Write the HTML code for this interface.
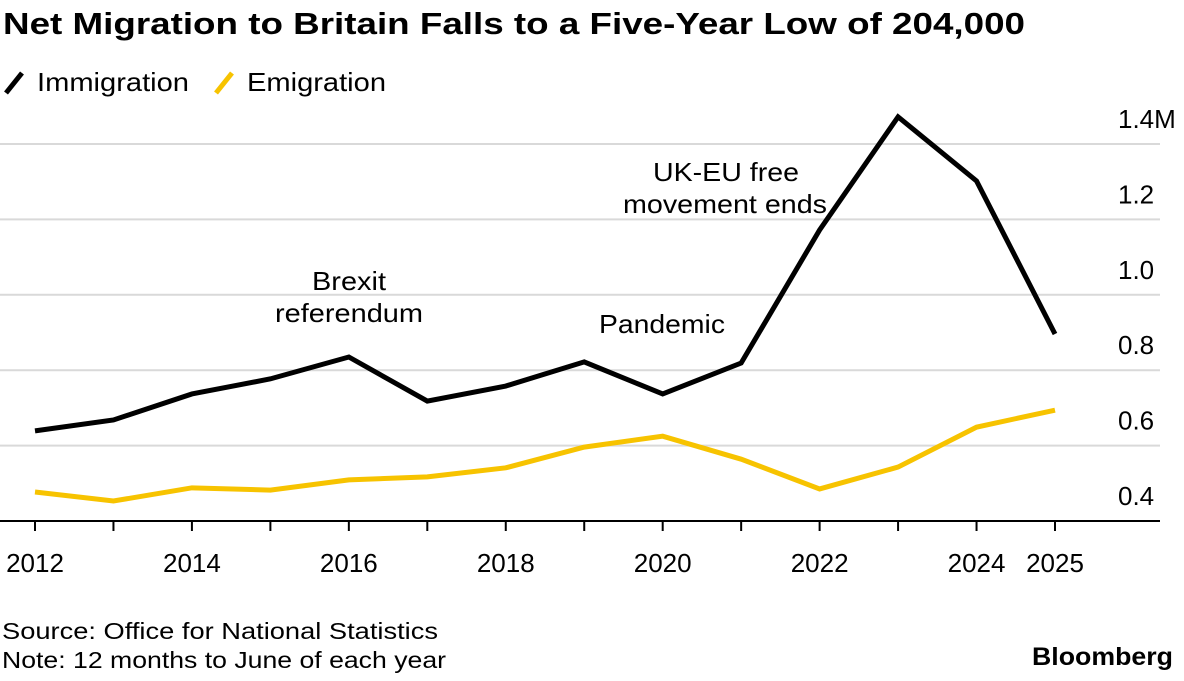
<!DOCTYPE html>
<html><head><meta charset="utf-8"><style>
body{margin:0;background:#fff;width:1184px;height:676px;overflow:hidden;font-family:"Liberation Sans",Arial,sans-serif;}
svg text{font-family:"Liberation Sans",Arial,sans-serif;}
</style></head><body>
<svg id="c" width="1184" height="676">
<text x="3" y="34" font-size="31" font-weight="bold" fill="#000" textLength="1022" lengthAdjust="spacingAndGlyphs">Net Migration to Britain Falls to a Five-Year Low of 204,000</text>
<g>
<line x1="6" y1="93" x2="22" y2="73" stroke="#000" stroke-width="5"/>
<text x="37" y="91" font-size="26" textLength="152" lengthAdjust="spacingAndGlyphs">Immigration</text>
<line x1="216" y1="93" x2="232" y2="73" stroke="#f7c300" stroke-width="5"/>
<text x="247" y="91" font-size="26" textLength="139" lengthAdjust="spacingAndGlyphs">Emigration</text>
</g>
<g id="grid"></g><g id="xax"></g><g id="series"></g>
<g font-size="26">
<text x="312" y="290" textLength="74" lengthAdjust="spacingAndGlyphs">Brexit</text>
<text x="275" y="322" textLength="148" lengthAdjust="spacingAndGlyphs">referendum</text>
<text x="599" y="333" textLength="126" lengthAdjust="spacingAndGlyphs">Pandemic</text>
<text x="653" y="181" textLength="146" lengthAdjust="spacingAndGlyphs">UK-EU free</text>
<text x="623" y="213" textLength="204" lengthAdjust="spacingAndGlyphs">movement ends</text>
</g>
<text x="2" y="639" font-size="23" textLength="436" lengthAdjust="spacingAndGlyphs">Source: Office for National Statistics</text>
<text x="2" y="668" font-size="23" textLength="444" lengthAdjust="spacingAndGlyphs">Note: 12 months to June of each year</text>
<text x="1032" y="665" font-size="25" font-weight="bold" textLength="141" lengthAdjust="spacingAndGlyphs">Bloomberg</text>
</svg>
<script>
const years=[2012,2013,2014,2015,2016,2017,2018,2019,2020,2021,2022,2023,2024,2025];
const immigration=[0.639,0.668,0.737,0.777,0.835,0.718,0.758,0.822,0.737,0.819,1.172,1.472,1.302,0.896];
const emigration=[0.477,0.453,0.488,0.482,0.509,0.517,0.541,0.596,0.625,0.564,0.485,0.543,0.649,0.694];
const yTicks=[0.4,0.6,0.8,1.0,1.2,1.4];
const yTickLabels=["0.4","0.6","0.8","1.0","1.2","1.4M"];
const xTickYears=[2012,2014,2016,2018,2020,2022,2024,2025];
const NS="http://www.w3.org/2000/svg";
const X=yr=>35+(yr-2012)*(1020/13);
const Y=v=>521-(v-0.4)*377;
function mk(t,a,p){const e=document.createElementNS(NS,t);for(const k in a)e.setAttribute(k,a[k]);p.appendChild(e);return e;}
const g=document.getElementById('grid');
yTicks.forEach((v,i)=>{
 if(i>0){const l=mk('line',{x1:0,x2:1160,y1:Y(v),y2:Y(v),stroke:'#d9d9d9','stroke-width':2},g);
 
 }
 const t=mk('text',{x:1118,y:Y(v)-16,'font-size':26},g);t.textContent=yTickLabels[i];
 
 
});
const xa=document.getElementById('xax');
const base=mk('line',{x1:0,x2:1160,y1:521,y2:521,stroke:'#000','stroke-width':2},xa);


years.forEach(yr=>{const tk=mk('line',{x1:X(yr),x2:X(yr),y1:521,y2:531,stroke:'#000','stroke-width':2},xa);
 
 });
xTickYears.forEach(yr=>{const t=mk('text',{x:X(yr),y:572,'font-size':26,'text-anchor':'middle'},xa);t.textContent=yr;
 
 });
const s=document.getElementById('series');
function line(vals,col,name){const p=mk('polyline',{points:vals.map((v,i)=>X(years[i])+','+Y(v)).join(' '),fill:'none',stroke:col,'stroke-width':5,'stroke-linejoin':'miter'},s);
 
 }
line(emigration,'#f7c300','emigration-line');
line(immigration,'#000','immigration-line');
</script>
</body></html>
